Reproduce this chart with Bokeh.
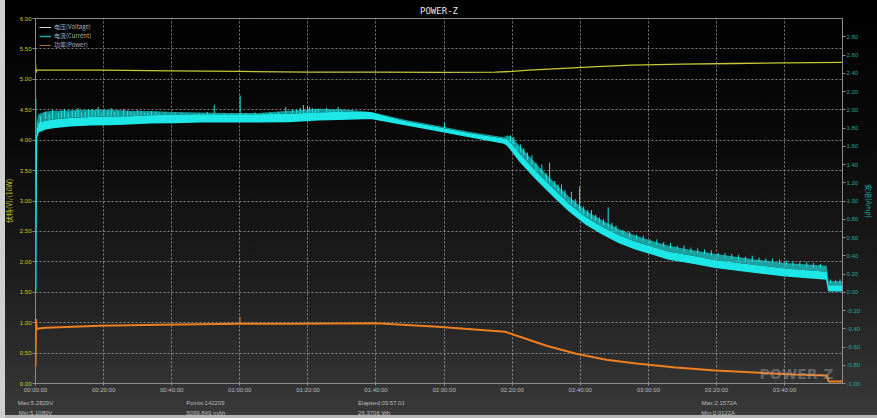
from bokeh.plotting import figure
from bokeh.models import (LinearAxis, Range1d, FixedTicker, Legend, LegendItem, Label,
                          NumeralTickFormatter)
from bokeh.embed import file_html
from bokeh.resources import INLINE

CJK = "Noto Sans CJK SC"
SANS = "Liberation Sans"
NAN = float("nan")

# ---- data (time in minutes from start) ----
x_ticks = [0, 20, 40, 60, 80, 100, 120, 140, 160, 180, 200, 220]
x_tick_labels = ["00:00:00", "00:20:00", "00:40:00", "01:00:00", "01:20:00", "01:40:00",
                 "02:00:00", "02:20:00", "02:40:00", "03:00:00", "03:20:00", "03:40:00"]

cur_t = [0.0, 0.3, 0.87, 2.92, 5.83, 10.20, 16.04, 21.87, 27.70, 33.53, 40.82, 48.11, 56.85,
         65.60, 74.35, 83.09, 91.84, 98.54, 108.46, 118.08, 127.70, 137.61, 138.49, 139.94,
         142.28, 147.23, 152.19, 156.86, 161.81, 166.77, 171.43, 176.39, 181.34, 186.01,
         193.01, 199.71, 211.37, 220.12, 232.37, 232.96, 237.0]
# lower edge of the current trace
cur_lo = [0.0122, 1.70, 1.758, 1.790, 1.807, 1.823, 1.834, 1.839, 1.845, 1.856, 1.861, 1.867,
          1.867, 1.867, 1.872, 1.889, 1.899, 1.905, 1.838, 1.771, 1.703, 1.634, 1.616, 1.551,
          1.434, 1.235, 1.052, 0.889, 0.744, 0.635, 0.545, 0.472, 0.417, 0.363, 0.319, 0.272,
          0.218, 0.180, 0.145, 0.017, 0.017]
# top of the dense part of the trace
cur_hi = [0.0122, 1.78, 1.86, 1.88, 1.895, 1.91, 1.92, 1.925, 1.93, 1.94, 1.945, 1.95,
          1.95, 1.95, 1.955, 1.97, 1.98, 1.975, 1.878, 1.811, 1.743, 1.684, 1.676, 1.621,
          1.514, 1.315, 1.132, 0.964, 0.819, 0.710, 0.625, 0.552, 0.497, 0.443, 0.399, 0.352,
          0.298, 0.260, 0.225, 0.077, 0.077]
# top of the noisy fringe of the trace
cur_noise = [0.0122, 1.85, 1.95, 1.98, 1.99, 1.995, 2.0, 2.0, 1.99, 1.985, 1.975, 1.97,
             1.965, 1.965, 1.99, 2.01, 2.0, 1.975, 1.89, 1.825, 1.755, 1.70, 1.72, 1.70,
             1.60, 1.40, 1.21, 1.04, 0.89, 0.78, 0.69, 0.62, 0.56, 0.51, 0.46, 0.42,
             0.36, 0.32, 0.29, 0.12, 0.12]

spike_t = [0.10, 1.5, 2.9, 4.0, 5.0, 6.7, 7.6, 8.5, 9.6, 10.8, 11.7, 12.5, 13.5, 14.6, 15.6,
           16.6, 17.5, 18.4, 19.3, 20.1, 21.2, 22.2, 23.3, 24.2, 25.9, 27.0, 28.0, 29.0, 30.0,
           31.0, 32.1, 33.0, 34.1, 35.3, 36.4, 38.0, 39.4, 41.0, 42.9, 44.5, 46.6, 48.0, 50.5,
           52.5, 55.4, 57.5, 60.1, 62.0, 64.5, 67.0, 69.0, 71.4, 73.5, 75.5, 76.7, 77.7, 78.7,
           79.9, 80.5, 81.3, 82.2, 83.1, 84.5, 85.5, 86.6, 87.7, 88.9, 90.0, 91.8, 93.0, 94.8,
           96.5, 98.0, 120.1,
           139.5, 140.5, 141.4, 142.5, 143.4, 144.5, 145.8, 147.0, 148.7, 150.0, 151.0, 152.5,
           153.5, 154.5, 155.5, 157.4, 158.5, 159.8, 161.0, 162.2, 163.3, 164.5, 165.6, 166.8,
           168.2, 169.3, 170.5,
           172.5, 174.5, 176.5, 178.5, 180.5, 182.5, 184.5, 186.5, 188.5, 190.5, 192.5, 194.5,
           196.5, 198.5, 200.5, 202.5, 204.5, 206.5, 208.5, 210.5, 212.5, 214.5, 216.5, 218.5,
           220.5, 222.5, 224.5, 226.5, 228.5, 230.5, 233.5, 235.0, 236.3]
spike_base = [0.0122, 1.85, 1.90, 1.89, 1.90, 1.91, 1.91, 1.91, 1.91, 1.92, 1.92, 1.92, 1.92,
              1.92, 1.92, 1.93, 1.93, 1.93, 1.93, 1.93, 1.93, 1.93, 1.93, 1.93, 1.93, 1.93,
              1.94, 1.94, 1.94, 1.94, 1.94, 1.94, 1.94, 1.95, 1.95, 1.95, 1.95, 1.95, 1.95,
              1.95, 1.95, 1.95, 1.95, 1.95, 1.95, 1.95, 1.95, 1.95, 1.95, 1.95, 1.95, 1.95,
              1.95, 1.96, 1.96, 1.96, 1.96, 1.96, 1.96, 1.96, 1.96, 1.97, 1.97, 1.97, 1.97,
              1.97, 1.97, 1.97, 1.97, 1.96, 1.96, 1.95, 1.95, 1.80,
              1.65, 1.62, 1.55, 1.53, 1.50, 1.45, 1.40, 1.34, 1.30, 1.22, 1.20, 1.15, 1.11,
              1.07, 1.04, 0.97, 0.94, 0.90, 0.86, 0.83, 0.80, 0.78, 0.76, 0.73, 0.71, 0.69,
              0.67,
              0.63, 0.60, 0.58, 0.56, 0.54, 0.52, 0.50, 0.48, 0.47, 0.45, 0.44, 0.43, 0.42,
              0.40, 0.39, 0.38, 0.37, 0.36, 0.35, 0.34, 0.33, 0.33, 0.32, 0.31, 0.30, 0.29,
              0.29, 0.28, 0.27, 0.27, 0.10, 0.10, 0.10]
spike_top = [2.12, 1.93, 1.976, 1.96, 1.998, 1.965, 1.99, 2.008, 1.97, 1.987, 1.99, 2.019,
             1.97, 1.976, 2.00, 2.008, 1.99, 2.030, 1.97, 1.998, 1.99, 2.019, 1.975, 1.987,
             2.008, 1.99, 1.976, 1.97, 1.998, 1.985, 1.965, 1.97, 1.987, 1.98, 1.965, 1.975,
             1.954, 1.97, 1.965, 1.96, 1.943, 1.965, 1.975, 2.052, 1.965, 1.96, 2.157, 1.965,
             1.97, 1.96, 1.97, 1.976, 2.030, 2.00, 1.998, 2.02, 2.052, 2.041, 2.03, 2.019,
             2.01, 2.008, 1.976, 2.02, 1.998, 2.00, 2.030, 2.00, 1.976, 1.985, 1.954, 1.97,
             1.965, 1.856,
             1.72, 1.70, 1.60, 1.62, 1.58, 1.53, 1.50, 1.42, 1.40, 1.30, 1.420, 1.22, 1.18,
             1.18, 1.12, 1.10, 1.02, 1.158, 0.94, 0.90, 0.90, 0.85, 0.82, 0.80, 0.929, 0.76,
             0.73,
             0.68, 0.66, 0.63, 0.62, 0.58, 0.58, 0.55, 0.54, 0.51, 0.51, 0.49, 0.48, 0.47,
             0.46, 0.43, 0.43, 0.42, 0.41, 0.39, 0.40, 0.38, 0.37, 0.37, 0.36, 0.35, 0.34,
             0.33, 0.33, 0.32, 0.31, 0.14, 0.13, 0.14]

volt_t = [0.0, 0.15, 0.3, 20, 40, 60, 80, 100, 120, 135, 140, 145, 155, 165, 175, 190, 205,
          220, 237.0]
volt_v = [5.25, 5.11, 5.15, 5.15, 5.14, 5.13, 5.12, 5.12, 5.115, 5.12, 5.13, 5.15, 5.18, 5.21,
          5.235, 5.25, 5.26, 5.27, 5.28]

pow_t = [0.0, 0.15, 0.3, 2.92, 18.95, 36.44, 60.06, 76.5, 100.0, 118.1, 137.9, 141.4, 150.1,
         158.8, 167.6, 176.4, 188.0, 199.7, 211.4, 223.0, 232.4, 233.0, 237.0]
pow_v = [0.29, 1.06, 0.90, 0.915, 0.948, 0.965, 0.981, 0.981, 0.989, 0.932, 0.850, 0.785,
         0.620, 0.490, 0.392, 0.327, 0.262, 0.213, 0.180, 0.147, 0.131, 0.033, 0.033]
pow_spike_t = [60.06]
pow_spike_base = [0.981]
pow_spike_top = [1.095]

left_ticks = [0, 0.5, 1.0, 1.5, 2.0, 2.5, 3.0, 3.5, 4.0, 4.5, 5.0, 5.5, 6.0]
right_ticks = [-1.0, -0.8, -0.6, -0.4, -0.2, 0.0, 0.2, 0.4, 0.6, 0.8, 1.0, 1.2, 1.4, 1.6,
               1.8, 2.0, 2.2, 2.4, 2.6, 2.8]

# summary texts, each placed at a time position under the chart
info_row1_t = [0.0, 49.9, 101.6, 200.8]
info_row1 = ["Max:5.2829V", "Points:142209", "Elapsed:03:57:01", "Max:2.1572A"]
info_row2_t = [0.0, 50.0, 99.5, 200.5]
info_row2 = ["Min:5.1080V", "5099.849 mAh", "26.3706 Wh", "Min:0.0122A"]

# ---- colours ----
C_CUR = "#1de6e6"
C_VOLT = "#c8c83a"
C_POW = "#ee7f20"
C_LEFT = "#cccc22"
C_RIGHT = "#20a8a0"
C_TXT = "#bcbcbc"

p = figure(width=877, height=418, output_backend="svg", toolbar_location=None,
           x_range=Range1d(0, 237.02), y_range=Range1d(0, 6),
           min_border_left=35, min_border_right=29, min_border_top=18, min_border_bottom=33)
p.background_fill_alpha = 0
p.border_fill_alpha = 0
p.styles = {
    "background": "linear-gradient(to bottom, #000000 0%, #0a0a0a 35%, #202020 70%, #3a3a3a 100%)",
    "box-shadow": "inset 5px 0 0 #cfcfcf, inset 0 -3px 0 #b4b4b4",
}
p.outline_line_color = "#8c8c8c"
p.outline_line_width = 1
p.extra_y_ranges = {"amp": Range1d(-1, 3)}

p.title.text = "POWER-Z"
p.title.align = "center"
p.title.text_font = "DejaVu Sans Mono"
p.title.text_font_size = "9px"
p.title.text_font_style = "normal"
p.title.text_color = "#e6e6e6"
p.title.standoff = 6

# axes
xa = p.xaxis[0]
xa.ticker = FixedTicker(ticks=x_ticks)
xa.major_label_overrides = {t: l for t, l in zip(x_ticks, x_tick_labels)}
ya = p.yaxis[0]
ya.ticker = FixedTicker(ticks=left_ticks)
ya.formatter = NumeralTickFormatter(format="0.00")
ya.axis_label = "伏特(V)/(10W)"
ya.axis_label_text_color = C_LEFT
ya.major_label_text_color = C_LEFT
ra = LinearAxis(y_range_name="amp", ticker=FixedTicker(ticks=right_ticks),
                formatter=NumeralTickFormatter(format="0.00"))
ra.axis_label = "安培(Amp)"
ra.axis_label_text_color = C_RIGHT
ra.major_label_text_color = C_RIGHT
p.add_layout(ra, "right")

for ax in (xa, ya, ra):
    ax.axis_line_color = "#8c8c8c"
    ax.major_tick_line_color = "#8c8c8c"
    ax.minor_tick_line_color = None
    ax.major_tick_in = 0
    ax.major_tick_out = 3
    ax.major_label_text_font_size = "6px"
    ax.major_label_text_font = SANS
    ax.major_label_standoff = 1
    ax.axis_label_text_font = CJK
    ax.axis_label_text_font_size = "7px"
    ax.axis_label_text_font_style = "normal"
    ax.axis_label_standoff = 3
xa.major_label_text_color = C_TXT
xa.major_tick_out = 2
ra.axis_label_standoff = 1

# summary rows as label-only axes under the time axis
for ticks, texts, standoff in ((info_row1_t, info_row1, 4), (info_row2_t, info_row2, 1)):
    ia = LinearAxis(ticker=FixedTicker(ticks=ticks),
                    major_label_overrides={t: s for t, s in zip(ticks, texts)})
    ia.axis_line_color = None
    ia.major_tick_line_color = None
    ia.minor_tick_line_color = None
    ia.major_tick_in = 0
    ia.major_tick_out = 0
    ia.minor_tick_out = 0
    ia.major_label_standoff = standoff
    ia.major_label_text_font = SANS
    ia.major_label_text_font_size = "6px"
    ia.major_label_text_color = C_TXT
    p.add_layout(ia, "below")

for g in (p.xgrid[0], p.ygrid[0]):
    g.grid_line_color = "#b4b4b4"
    g.grid_line_alpha = 0.7
    g.grid_line_dash = "2 2"
    g.grid_line_width = 1
p.xgrid[0].ticker = FixedTicker(ticks=x_ticks)
p.ygrid[0].ticker = FixedTicker(ticks=left_ticks)

# ---- series ----
p.varea(x=cur_t, y1=cur_hi, y2=cur_noise, y_range_name="amp", fill_color=C_CUR, fill_alpha=0.65)
p.varea(x=cur_t, y1=cur_lo, y2=cur_hi, y_range_name="amp", fill_color=C_CUR, fill_alpha=1)
p.line(cur_t, cur_lo, y_range_name="amp", line_color=C_CUR, line_width=1.4)
p.segment(x0=spike_t, y0=spike_base, x1=spike_t, y1=spike_top, y_range_name="amp",
          line_color=C_CUR, line_width=1.0)

p.line(pow_t, pow_v, line_color=C_POW, line_width=2.0)
p.segment(x0=pow_spike_t, y0=pow_spike_base, x1=pow_spike_t, y1=pow_spike_top,
          line_color=C_POW, line_width=1.0)

p.line(volt_t, volt_v, line_color=C_VOLT, line_width=1.3)

# legend swatches (thin lines as in the original legend)
lv = p.line([NAN], [NAN], line_color="#dcdcc4", line_width=1)
lc = p.line([NAN], [NAN], line_color="#18a8a0", line_width=1.5)
lp = p.line([NAN], [NAN], line_color="#b8702e", line_width=1)
legend = Legend(items=[LegendItem(label="电压(Voltage)", renderers=[lv]),
                       LegendItem(label="电流(Current)", renderers=[lc]),
                       LegendItem(label="功率(Power)", renderers=[lp])],
                location="top_left")
legend.label_text_font = CJK
legend.label_text_font_size = "6px"
legend.label_text_color = "#b0b0b0"
legend.glyph_width = 12
legend.glyph_height = 8
legend.label_height = 9
legend.label_standoff = 3
legend.spacing = 0
legend.padding = 2
legend.margin = 2
legend.background_fill_alpha = 0
legend.border_line_alpha = 0
p.add_layout(legend)

# watermark
p.add_layout(Label(x=237.0, y=0, x_offset=-9, y_offset=2, text="POWER-Z", text_align="right",
                   text_baseline="bottom", text_font="DejaVu Sans",
                   text_font_size="14px", text_font_style="bold", text_color="#a8a8a8",
                   text_alpha=0.45))

open("out.html", "w").write(file_html(p, INLINE))
